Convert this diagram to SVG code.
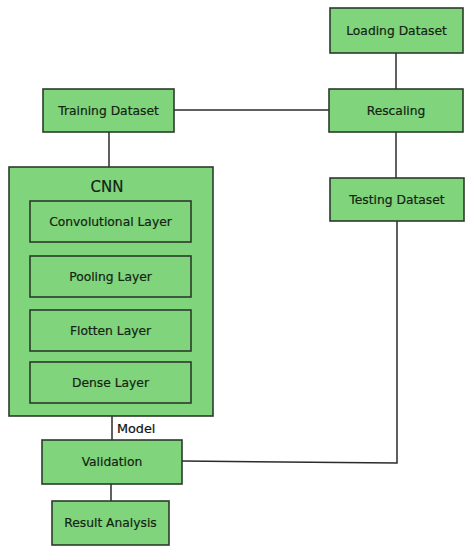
<svg xmlns="http://www.w3.org/2000/svg" width="474" height="553" viewBox="0 0 474 553">
<style>
.box{fill:#80d47b;stroke:#2b3b2b;stroke-width:1.6}
.t{font-family:"DejaVu Sans",Verdana,sans-serif;font-size:12.3px;fill:#142414;text-anchor:middle;dominant-baseline:central;stroke:#142414;stroke-width:0.2}
.ln{stroke:#2b2b2b;stroke-width:1.5;fill:none}
</style>
<rect width="474" height="553" fill="#ffffff"/>
<g id="connectors">
<line class="ln" x1="396" y1="53" x2="396" y2="89"/>
<line class="ln" x1="174" y1="110" x2="329" y2="110"/>
<line class="ln" x1="109" y1="132" x2="109" y2="167"/>
<line class="ln" x1="396" y1="132" x2="396" y2="178"/>
<line class="ln" x1="110" y1="242" x2="110" y2="256"/>
<line class="ln" x1="110" y1="297" x2="110" y2="310"/>
<line class="ln" x1="110" y1="351" x2="110" y2="362"/>
<line class="ln" x1="112" y1="416" x2="112" y2="440"/>
<polyline class="ln" points="182,461 397,463 397,221"/>
<line class="ln" x1="111" y1="484" x2="111" y2="501"/>
<text x="117" y="428" style="font-family:'DejaVu Sans',Verdana,sans-serif;font-size:12.8px;fill:#111;dominant-baseline:central;stroke:#111;stroke-width:0.2">Model</text>
</g>
<g id="loading"><rect class="box" x="330" y="8" width="133" height="45"/><text class="t" x="396.5" y="31">Loading Dataset</text></g>
<g id="training"><rect class="box" x="43" y="89" width="131" height="43"/><text class="t" x="108.5" y="110.5">Training Dataset</text></g>
<g id="rescaling"><rect class="box" x="329" y="89" width="134" height="43"/><text class="t" x="396" y="110.5">Rescaling</text></g>
<g id="testing"><rect class="box" x="330" y="178" width="134" height="43"/><text class="t" x="397" y="199.5">Testing Dataset</text></g>
<g id="cnn"><rect class="box" x="9" y="167" width="204" height="249"/><text class="t" x="107" y="187" style="font-size:15px">CNN</text></g>
<g id="conv"><rect class="box" x="30" y="201" width="161" height="41"/><text class="t" x="110.5" y="222">Convolutional Layer</text></g>
<g id="pooling"><rect class="box" x="30" y="256" width="161" height="41"/><text class="t" x="110.5" y="277">Pooling Layer</text></g>
<g id="flotten"><rect class="box" x="30" y="310" width="161" height="41"/><text class="t" x="110.5" y="331">Flotten Layer</text></g>
<g id="dense"><rect class="box" x="30" y="362" width="161" height="41"/><text class="t" x="110.5" y="383">Dense Layer</text></g>
<g id="validation"><rect class="box" x="42" y="440" width="140" height="44"/><text class="t" x="112" y="462">Validation</text></g>
<g id="result"><rect class="box" x="52" y="501" width="117" height="44"/><text class="t" x="110.5" y="523">Result Analysis</text></g>
</svg>
